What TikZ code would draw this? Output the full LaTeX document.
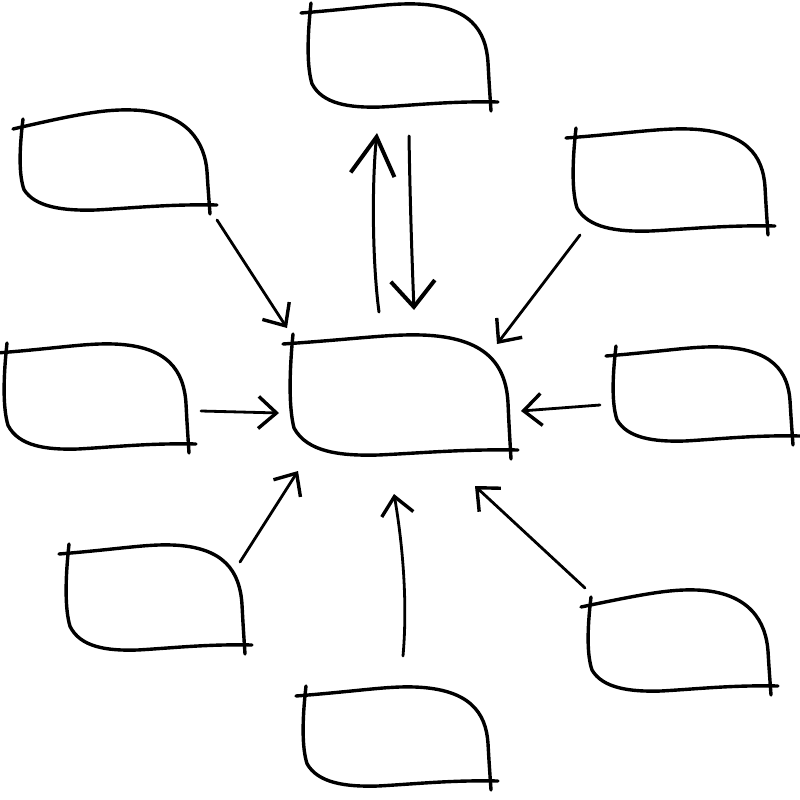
\documentclass[tikz,border=0pt]{standalone}
\usetikzlibrary{arrows.meta}
\tikzset{
 pen/.style={line width=3.4pt, line cap=round, line join=round, black},
 boxarea/.style={draw=none, inner sep=0pt, rectangle},
 conn/.style={line width=2.8pt, line cap=round, -{Straight Barb[length=18pt,width=32pt,line width=3.4pt]}},
 bigconn/.style={line width=3pt, line cap=round, -{Straight Barb[length=#1,width=44pt,line width=4pt]}}
}
\newcommand\sketchbox[6]{%
 \pgfmathsetmacro\bw{#4-#2}\pgfmathsetmacro\bh{#5-#3}%
 \node[boxarea, minimum width=\bw pt, minimum height=\bh pt] (#1) at ({(#2+#4)/2},{(#3+#5)/2}) {};
 \draw[pen] ({#2-9},{#3+1}) .. controls ({#2+0.3*\bw},{#3-4-#6}) and ({#2+0.45*\bw},{#3-9-#6}) .. ({#2+0.6*\bw},{#3-8-#6}) .. controls ({#4-0.1*\bw},{#3-6-#6}) and ({#4-2},{#3+0.2*\bh}) .. ({#4},{#3+0.55*\bh}) .. controls ({#4+1},{#3+0.75*\bh}) .. ({#4+3},{#5+7});
 \draw[pen] ({#2+1},{#3-9}) .. controls ({#2-3},{#3+0.3*\bh}) and ({#2-3},{#3+0.6*\bh}) .. ({#2+2},{#3+0.78*\bh}) .. controls ({#2+0.07*\bw},{#5}) and ({#2+0.22*\bw},{#5+4}) .. ({#2+0.4*\bw},{#5+3}) .. controls ({#2+0.6*\bw},{#5+1}) and ({#2+0.8*\bw},{#5-3}) .. ({#4+10},{#5-2});
}
\begin{document}
\begin{tikzpicture}[x=1pt,y=-1pt]
\fill[white] (0,0) rectangle (800,800);
\useasboundingbox (0,0) rectangle (800,800);
\sketchbox{top}{310}{12}{488}{104}{0}
\sketchbox{tl}{22}{128}{207}{207}{10}
\sketchbox{tr}{575}{137}{765}{228}{0}
\sketchbox{lf}{6}{352}{186}{446}{0}
\sketchbox{ctr}{292}{343}{508}{452}{0}
\sketchbox{rt}{615}{355}{790}{438}{0}
\sketchbox{bl}{68}{553}{242}{647}{0}
\sketchbox{bot}{305}{695}{488}{783}{0}
\sketchbox{br}{590}{606}{768}{688}{8}
% arrow end points
\coordinate (a1) at (217,220); \coordinate (a2) at (287,328);
\coordinate (b1) at (379,312); \coordinate (b2) at (377,133);
\coordinate (c1) at (409,136); \coordinate (c2) at (414,310);
\coordinate (d1) at (580,235); \coordinate (d2) at (497,344);
\coordinate (e1) at (201,411); \coordinate (e2) at (279,413);
\coordinate (f1) at (600,405); \coordinate (f2) at (521,411);
\coordinate (g1) at (240,562); \coordinate (g2) at (298,471);
\coordinate (h1) at (403,656); \coordinate (h2) at (394,494);
\coordinate (i1) at (585,588); \coordinate (i2) at (475,486);
\draw[conn] (a1) -- (a2);
\draw[bigconn=38pt] (b1) .. controls (372,260) and (372,180) .. (b2);
\draw[bigconn=26pt] (c1) .. controls (410,200) and (412,260) .. (c2);
\draw[conn] (d1) -- (d2);
\draw[conn] (e1) -- (e2);
\draw[conn] (f1) -- (f2);
\draw[conn] (g1) -- (g2);
\draw[conn] (h1) .. controls (408,600) and (402,540) .. (h2);
\draw[conn] (i1) -- (i2);
\end{tikzpicture}
\end{document}
